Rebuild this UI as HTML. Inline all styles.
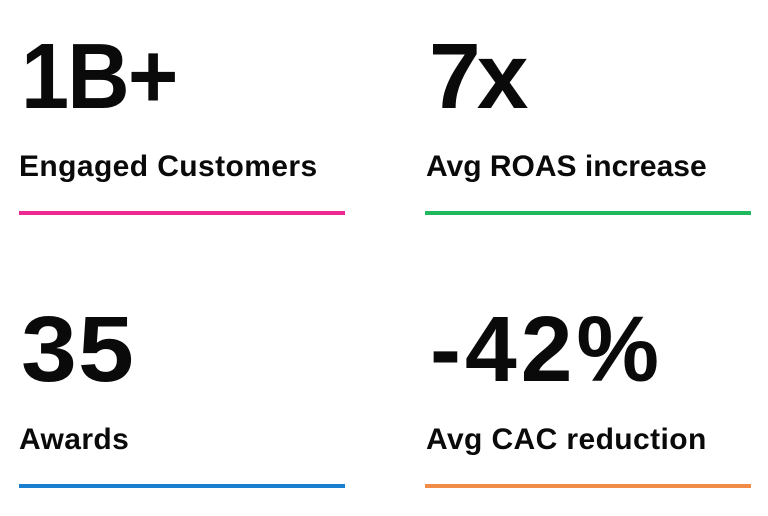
<!DOCTYPE html>
<html><head><style>
html,body{margin:0;padding:0;background:#fff;width:768px;height:516px;overflow:hidden}
div{position:absolute;font-family:"Liberation Sans",sans-serif;font-weight:bold;color:#0a0a0a;white-space:nowrap;transform-origin:left top}
.big{font-size:93px;line-height:93px}
.lab{font-size:30px;line-height:30px;letter-spacing:0.4px}
.ln{height:4px;width:326px}
</style></head><body>
<div class="big" style="left:21px;top:30px;letter-spacing:-2px;transform:scaleX(0.93)">1B+</div>
<div class="lab" style="left:19px;top:152px">Engaged Customers</div>
<div class="ln" style="left:19px;top:211px;background:#ec2a92"></div>

<div class="big" style="left:429px;top:30px;letter-spacing:-4px">7x</div>
<div class="lab" style="left:426px;top:152px;letter-spacing:0">Avg ROAS increase</div>
<div class="ln" style="left:425px;top:211px;background:#20b85c"></div>

<div class="big" style="left:21px;top:303px;letter-spacing:1px;transform:scaleX(1.08)">35</div>
<div class="lab" style="left:19px;top:425px">Awards</div>
<div class="ln" style="left:19px;top:484px;background:#1a7fcf"></div>

<div class="big" style="left:430px;top:303px;letter-spacing:4px">-42%</div>
<div class="lab" style="left:426px;top:425px">Avg CAC reduction</div>
<div class="ln" style="left:425px;top:484px;background:#f08c48"></div>
</body></html>
